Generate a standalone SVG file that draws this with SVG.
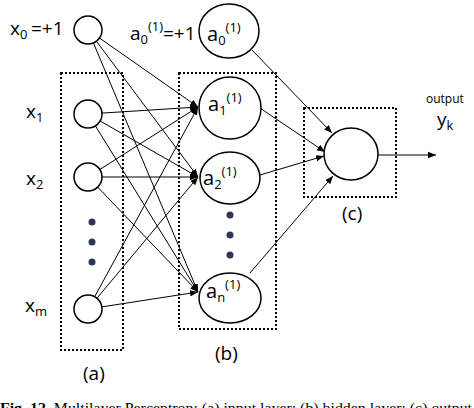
<svg xmlns="http://www.w3.org/2000/svg" width="474" height="408" viewBox="0 0 474 408">
<defs>
<marker id="arr" markerUnits="userSpaceOnUse" markerWidth="9" markerHeight="8" refX="8" refY="4" orient="auto">
<path d="M0,0.8 L8,4 L0,7.2 Z" fill="#000"/>
</marker>
<style>
.node{fill:#fff;stroke:#000;stroke-width:1.5}
.box{fill:none;stroke:#000;stroke-width:2;stroke-dasharray:2 2}
.edge{stroke:#000;stroke-width:1;fill:none;marker-end:url(#arr)}
.lbl{font-family:"Open Sans","Liberation Sans",sans-serif;font-size:19px;fill:#000}
.in{font-family:"Open Sans","Liberation Sans",sans-serif;font-size:20px;fill:#000}
.s{font-size:13px}
.small{font-family:"Open Sans","Liberation Sans",sans-serif;font-size:12px;fill:#000}
.dot{fill:#2b3659}
.cap{font-family:"Liberation Serif",serif;font-size:14px;fill:#000}
</style>
</defs>
<rect width="474" height="408" fill="#fff"/>

<g id="boxes">
<rect class="box" x="61" y="73" width="62" height="277"/>
<rect class="box" x="179" y="73" width="97" height="256"/>
<rect class="box" x="304" y="108" width="92" height="89"/>
</g>

<g id="connectors">
<line class="edge" x1="99.5" y1="38" x2="198" y2="107"/>
<line class="edge" x1="96.4" y1="41.2" x2="198" y2="177"/>
<line class="edge" x1="93.4" y1="42.9" x2="198" y2="292"/>
<line class="edge" x1="102" y1="113.1" x2="198" y2="107"/>
<line class="edge" x1="100.1" y1="121" x2="198" y2="177"/>
<line class="edge" x1="95.4" y1="125.9" x2="198" y2="292"/>
<line class="edge" x1="99.8" y1="169.5" x2="198" y2="107"/>
<line class="edge" x1="102" y1="177" x2="198" y2="177"/>
<line class="edge" x1="97.7" y1="187.1" x2="198" y2="292"/>
<line class="edge" x1="94.7" y1="296.7" x2="198" y2="107"/>
<line class="edge" x1="97" y1="298.2" x2="198" y2="177"/>
<line class="edge" x1="101.8" y1="306.9" x2="198" y2="292"/>
<line class="edge" x1="252" y1="50" x2="332" y2="133"/>
<line class="edge" x1="260" y1="108" x2="325" y2="152"/>
<line class="edge" x1="260" y1="175" x2="324" y2="156"/>
<line class="edge" x1="250" y1="273" x2="333" y2="176"/>
<line class="edge" x1="378" y1="155" x2="436" y2="155"/>
</g>

<g id="x0"><circle class="node" cx="88" cy="30" r="14"/>
<text class="lbl" x="10" y="35">x<tspan class="s" dy="4">0</tspan><tspan dy="-4" x="31">=+1</tspan></text></g>
<g id="x1"><circle class="node" cx="88" cy="114" r="14"/>
<text class="lbl" x="26" y="118">x<tspan class="s" dy="4">1</tspan></text></g>
<g id="x2"><circle class="node" cx="88" cy="177" r="14"/>
<text class="lbl" x="26" y="185">x<tspan class="s" dy="4">2</tspan></text></g>
<g id="xdots"><circle class="dot" cx="92" cy="222" r="3.5"/><circle class="dot" cx="92" cy="242" r="3.5"/><circle class="dot" cx="92" cy="262" r="3.5"/></g>
<g id="xm"><circle class="node" cx="88" cy="309" r="14"/>
<text class="lbl" x="25" y="312">x<tspan class="s" dy="4">m</tspan></text></g>

<g id="a0"><ellipse class="node" cx="229" cy="31" rx="30" ry="27"/>
<text class="lbl" x="130" y="40">a<tspan class="s" dy="4">0</tspan><tspan class="s" dy="-13">(1)</tspan><tspan dy="9" x="163">=+1</tspan></text>
<text class="in" x="207" y="41">a<tspan class="s" dy="4">0</tspan><tspan class="s" dy="-13">(1)</tspan></text></g>
<g id="a1"><ellipse class="node" cx="230" cy="108" rx="31" ry="31"/>
<text class="in" x="208" y="111">a<tspan class="s" dy="4">1</tspan><tspan class="s" dy="-13">(1)</tspan></text></g>
<g id="a2"><ellipse class="node" cx="230" cy="178" rx="30" ry="26"/>
<text class="in" x="203" y="185">a<tspan class="s" dy="4">2</tspan><tspan class="s" dy="-13">(1)</tspan></text></g>
<g id="adots"><circle class="dot" cx="230" cy="215" r="3.5"/><circle class="dot" cx="230" cy="235" r="3.5"/><circle class="dot" cx="230" cy="255" r="3.5"/></g>
<g id="an"><ellipse class="node" cx="230" cy="298" rx="31" ry="25"/>
<text class="in" x="206" y="298">a<tspan class="s" dy="4">n</tspan><tspan class="s" dy="-13">(1)</tspan></text></g>

<g id="out"><ellipse class="node" cx="351" cy="154" rx="27" ry="26"/>
<text class="small" x="426" y="103">output</text>
<text class="lbl" x="437" y="126">y<tspan class="s" dy="4">k</tspan></text></g>

<g id="labels">
<text class="lbl" x="83" y="380">(a)</text>
<text class="lbl" x="215" y="360">(b)</text>
<text class="lbl" x="342" y="220">(c)</text>
<text class="cap" x="0" y="413" textLength="472" lengthAdjust="spacingAndGlyphs"><tspan font-weight="bold">Fig. 12.</tspan> Multilayer Perceptron: (a) input layer; (b) hidden layer; (c) output</text>
</g>
</svg>
